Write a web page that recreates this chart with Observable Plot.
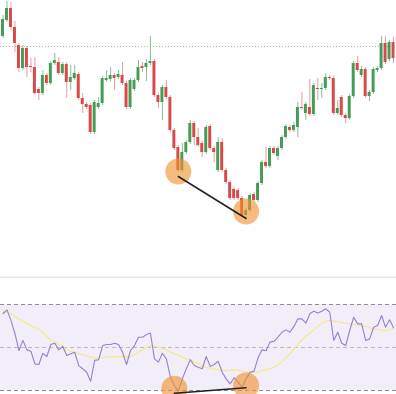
<!DOCTYPE html>
<html><head><meta charset="utf-8">
<script src="https://cdn.jsdelivr.net/npm/d3@7"></script>
<script src="https://cdn.jsdelivr.net/npm/@observablehq/plot@0.6"></script>
<style>html,body{margin:0;padding:0;background:#fff;overflow:hidden;} #chart svg{display:block;}</style>
</head><body><div id="chart"></div>
<script>
// Candle data (arbitrary price units; no axis is shown in the reference)
const opens  = [264,280,292,273,255,232,252,234,233,211,207,225,217,237,238,227,236,218,222,226,202,196,195,168,193,197,220,221,225,223,225,217,193,211,220,234,233,237,239,205,198,213,203,170,153,130,148,158,177,163,157,148,174,152,130,158,130,118,111,110,102,85,90,106,100,117,138,134,152,144,152,163,173,170,173,193,187,193,186,212,211,212,223,222,187,203,185,182,204,237,225,231,204,208,230,232,257,241,258];
const highs  = [285,299,298,279,257,255,254,242,243,213,230,227,239,247,243,238,238,235,235,228,207,198,197,200,203,224,230,233,227,230,238,219,222,222,240,238,241,264,241,207,215,220,205,172,155,157,160,180,179,172,159,175,176,154,163,162,132,120,113,112,104,92,107,108,119,140,153,154,154,154,165,176,175,178,198,208,198,221,217,222,217,227,225,224,200,205,187,206,239,244,234,233,210,233,234,264,264,260,263];
const lows   = [262,278,270,248,228,230,223,228,205,200,205,215,215,235,225,225,202,210,220,200,187,191,166,166,191,195,218,219,210,221,215,191,191,209,218,228,219,235,203,192,180,201,168,150,128,128,146,156,155,153,143,146,150,138,128,128,116,100,100,100,83,83,88,98,98,115,132,132,145,140,150,161,168,168,163,190,180,184,184,200,202,210,220,185,185,183,177,180,202,228,223,202,199,206,228,230,236,239,237];
const closes = [281,292,273,257,232,252,233,233,207,207,225,217,237,240,227,236,218,223,227,202,196,193,168,198,197,222,222,225,222,226,217,193,220,220,233,232,237,239,205,198,213,203,170,152,130,148,158,177,163,155,148,173,152,148,158,130,118,102,102,102,85,90,105,100,117,138,134,152,147,152,163,174,170,175,193,192,196,186,215,211,212,223,222,187,192,185,182,204,237,230,231,204,208,231,232,257,238,258,242];
// RSI (14) and its moving average
const rsiValues = [65.7,67.5,62.6,56.4,48.6,53.3,48.9,48.3,42.4,42.1,47.3,45.8,51.4,52.0,48.9,50.5,46.3,47.1,47.8,41.6,40.1,38.5,34.3,44.0,44.3,50.9,51.4,51.4,52.0,51.4,47.8,42.1,48.6,50.9,54.8,54.8,56.0,56.7,44.7,43.2,47.3,44.7,36.2,32.3,29.7,35.4,40.1,44.3,41.6,40.8,40.1,45.8,41.2,42.1,43.6,38.5,35.4,33.1,35.9,33.9,31.5,35.4,38.5,39.0,45.2,48.9,48.5,52.5,52.9,54.8,57.1,58.2,57.1,59.8,63.3,63.3,61.3,65.7,66.9,66.0,66.9,68.0,66.4,53.3,57.1,52.0,50.9,57.9,64.1,61.0,61.0,53.3,54.0,59.4,60.2,64.9,59.4,62.9,59.2];
const rsiMAValues = [67.1,66.4,65.7,64.4,63.2,62.2,61.2,60.2,59.4,58.4,57.1,55.1,53.3,52.5,51.4,50.5,48.9,48.3,47.7,47.2,46.7,46.1,45.5,45.2,45.2,45.3,45.5,45.5,45.7,45.8,45.8,45.8,45.8,46.7,47.8,48.9,49.9,50.8,50.8,50.1,49.7,48.9,47.8,47.1,46.3,45.5,44.7,44.3,43.2,42.4,41.3,40.8,40.4,39.9,39.6,39.3,39.3,39.4,39.6,39.4,39.0,38.5,38.4,38.5,38.7,39.2,39.6,40.2,40.8,42.0,43.6,45.2,47.1,49.2,51.4,53.6,55.1,56.7,58.2,59.8,61.3,62.2,62.6,62.2,62.0,61.6,61.3,61.0,60.7,60.4,60.1,59.8,59.2,58.7,58.4,58.0,57.9,58.4,59.0];
const priceLevel = 254;
const rsiUpper = 70, rsiMiddle = 50, rsiLower = 30;
// Divergence annotation
const divBarsPrice = [44, 61];
const divCirclePrice = [129, 89];
const divLinePrice = [124, 82];
const divBarsRsi = [43, 61];
const divCircleRsi = [30.8, 32.3];
const divLineRsi = [28.7, 31.3];

const green = "#459c57", red = "#d84a4a";
const xDomain = [-0.627, 98.745];
const candles = opens.map((o, i) => ({i, open: o, high: highs[i], low: lows[i], close: closes[i]}));
const up = d => d.close >= d.open, down = d => d.close < d.open;
const rsiData = rsiValues.map((v, i) => ({i, v}));
const maData = rsiMAValues.map((v, i) => ({i, v}));
const pc = divBarsPrice.map((b, k) => ({i: b, c: divCirclePrice[k], l: divLinePrice[k]}));
const rc = divBarsRsi.map((b, k) => ({i: b, c: divCircleRsi[k], l: divLineRsi[k]}));
const orange = "#f0922e";

const pricePlot = Plot.plot({
  width: 396, height: 278, margin: 0,
  x: {domain: xDomain, axis: null},
  y: {domain: [22, 300], axis: null},
  marks: [
    Plot.ruleY([priceLevel], {stroke: "#6cbf7c", strokeDasharray: "1,2", strokeOpacity: 0.8}),
    Plot.ruleX(candles, {filter: up, x: "i", y1: "low", y2: "high", stroke: green, strokeOpacity: 0.65}),
    Plot.ruleX(candles, {filter: down, x: "i", y1: "low", y2: "high", stroke: red, strokeOpacity: 0.55}),
    Plot.rect(candles, {filter: up, x1: d => d.i - 0.37, x2: d => d.i + 0.37, y1: "open", y2: "close", fill: green}),
    Plot.rect(candles, {filter: down, x1: d => d.i - 0.37, x2: d => d.i + 0.37, y1: "open", y2: "close", fill: red}),
    Plot.dot(pc, {x: "i", y: "c", r: 13, fill: orange, fillOpacity: 0.62, stroke: null}),
    Plot.line(pc, {x: "i", y: "l", stroke: "#222", strokeWidth: 1.5}),
    Plot.ruleY([22], {stroke: "#e8e8ea", strokeWidth: 2, dy: -1})
  ]
});

const rsiPlot = Plot.plot({
  width: 396, height: 116, margin: 0,
  x: {domain: xDomain, axis: null},
  y: {domain: [28.14, 82.09], axis: null},
  marks: [
    Plot.rect([{a: xDomain[0], b: xDomain[1], lo: rsiLower, hi: rsiUpper}], {x1: "a", x2: "b", y1: "lo", y2: "hi", fill: "#7e57c2", fillOpacity: 0.1}),
    Plot.ruleY([rsiUpper, rsiLower], {stroke: "#787b86", strokeOpacity: 0.85, strokeDasharray: "4,3"}),
    Plot.ruleY([rsiMiddle], {stroke: "#787b86", strokeOpacity: 0.45, strokeDasharray: "4,3"}),
    Plot.line(maData, {x: "i", y: "v", stroke: "#f4e98e", strokeWidth: 1.3}),
    Plot.line(rsiData, {x: "i", y: "v", stroke: "#9480cc", strokeWidth: 1.1}),
    Plot.dot(rc, {x: "i", y: "c", r: 13, fill: orange, fillOpacity: 0.62, stroke: null}),
    Plot.line(rc, {x: "i", y: "l", stroke: "#222", strokeWidth: 1.5})
  ]
});
document.getElementById("chart").append(pricePlot, rsiPlot);
</script></body></html>
